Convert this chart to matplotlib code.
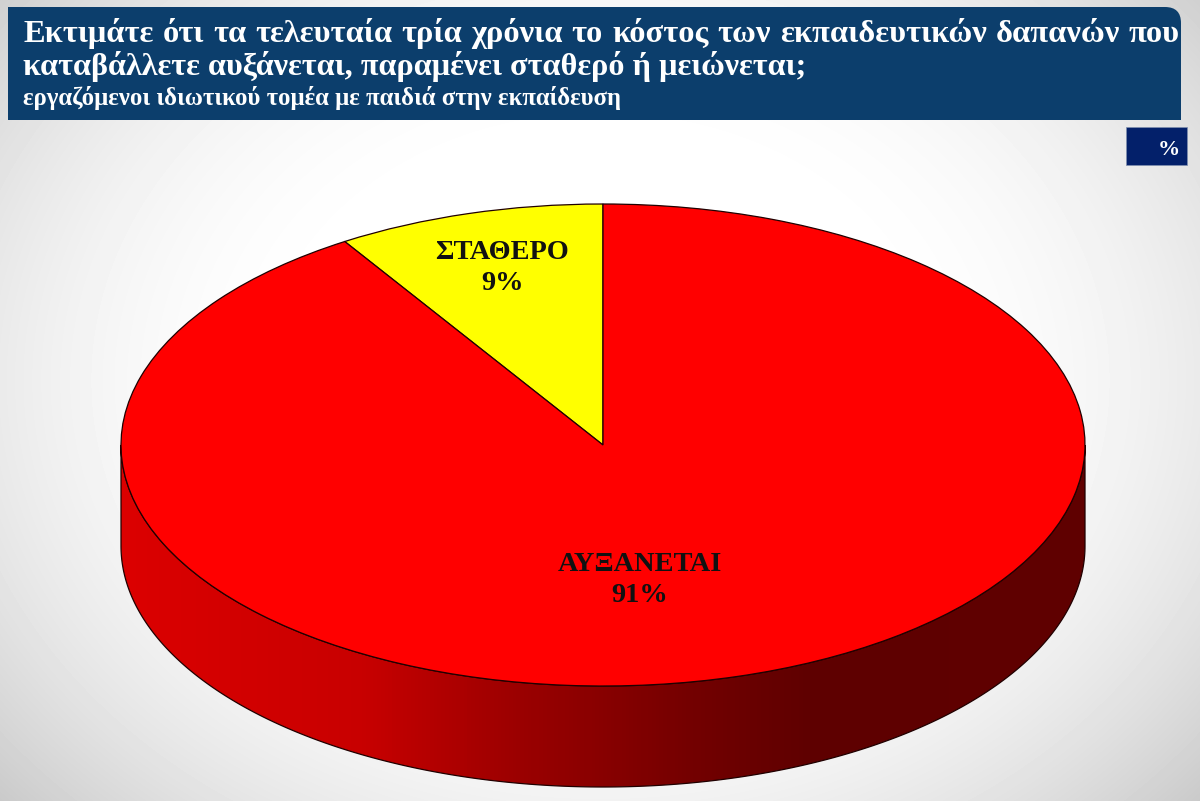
import numpy as np
import matplotlib
matplotlib.use('Agg')
import matplotlib.pyplot as plt
from matplotlib.colors import LinearSegmentedColormap
from matplotlib.patches import Polygon, Rectangle, FancyBboxPatch

plt.rcParams['font.family'] = ['Liberation Serif', 'DejaVu Serif']

categories = ['ΣΤΑΘΕΡΟ', 'ΑΥΞΑΝΕΤΑΙ']
values = [9, 91]
colors = ['#ffff00', '#ff0000']

title_lines = ['Εκτιμάτε ότι τα τελευταία τρία χρόνια το κόστος των εκπαιδευτικών δαπανών που',
               'καταβάλλετε αυξάνεται, παραμένει σταθερό ή μειώνεται;']
subtitle = 'εργαζόμενοι ιδιωτικού τομέα με παιδιά στην εκπαίδευση'

W, H = 1200, 801
# ellipse of the pie top, in pixels
cx, cy, rx, ry = 603, 445, 482, 241
depth = 101
navy = '#0c3e6c'

fig = plt.figure(figsize=(W / 100, H / 100), dpi=100)

# background, pixel coordinates with y going down
bg = fig.add_axes([0, 0, 1, 1])
bg.axis('off')

yy, xx = np.mgrid[0:H, 0:W]
dist = np.sqrt(((xx - 600) / 760) ** 2 + ((yy - 380) / 600) ** 2)
shade = 1 - 0.42 * np.clip(dist - 0.35, 0, None) ** 2
bg.imshow(shade, cmap='gray', vmin=0, vmax=1, extent=(0, W, H, 0), aspect='auto', zorder=0)

# side of the cylinder
t = np.linspace(0, np.pi, 300)
ex = cx + rx * np.cos(t)
ey = cy + ry * np.sin(t)
wall = np.column_stack([np.r_[ex, ex[::-1]], np.r_[ey, ey[::-1] + depth]])
wall_patch = Polygon(wall, closed=True, facecolor='none', edgecolor='#200000', lw=0.9, zorder=3)
bg.add_patch(wall_patch)
wall_cmap = LinearSegmentedColormap.from_list('wall', [(0, '#dc0000'), (0.25, '#c80000'), (0.4, '#9e0000'),
                                                       (0.6, '#720000'), (0.72, '#5e0000'), (1, '#600000')])
grad = bg.imshow(np.linspace(0, 1, 256)[None, :], cmap=wall_cmap, aspect='auto',
                 extent=(cx - rx, cx + rx, cy + ry + depth, cy), zorder=2)
grad.set_clip_path(wall_patch)
bg.set_xlim(0, W)
bg.set_ylim(H, 0)

# header, only the top right corner is round
header = FancyBboxPatch((8, 7), 1173, 113, boxstyle='round,pad=0,rounding_size=16',
                        facecolor=navy, edgecolor='none', zorder=4)
bg.add_patch(header)
bg.add_patch(Rectangle((8, 7), 1100, 113, facecolor=navy, edgecolor='none', zorder=4))
bg.add_patch(Rectangle((8, 40), 1173, 80, facecolor=navy, edgecolor='none', zorder=4))
bg.add_patch(Rectangle((1126, 127), 61, 38, facecolor='#03206a', edgecolor='#8090b0', lw=0.5, zorder=4))
bg.text(1169, 150, '%', color='white', fontsize=16, fontweight='bold', ha='center', va='center', zorder=5)

# justified first line, word by word
renderer = fig.canvas.get_renderer()


def justified(words, x0, x1, y, size):
    items = [bg.text(0, y, w, color='white', fontsize=size, fontweight='bold', va='baseline', zorder=5)
             for w in words]
    widths = [i.get_window_extent(renderer).width for i in items]
    gap = (x1 - x0 - sum(widths)) / (len(words) - 1)
    x = x0
    for item, width in zip(items, widths):
        item.set_x(x)
        x += width + gap


justified(title_lines[0].split(), 23, 1180, 42, 23.4)
bg.text(23, 75, title_lines[1], color='white', fontsize=23.2, fontweight='bold', va='baseline', zorder=5)
bg.text(23, 105, subtitle, color='white', fontsize=17.8, fontweight='bold', va='baseline', zorder=5)

# pie top, stretched to the ellipse
pie_ax = fig.add_axes([(cx - rx) / W, 1 - (cy + ry) / H, 2 * rx / W, 2 * ry / H])
pie_ax.pie(values, colors=colors, startangle=90, counterclock=True,
           wedgeprops={'edgecolor': '#200000', 'linewidth': 0.9})
pie_ax.set_aspect('auto')
pie_ax.set_xlim(-1, 1)
pie_ax.set_ylim(-1, 1)

labels = [f'{c}\n{v}%' for c, v in zip(categories, values)]
label_pos = [(502, 268), (640, 580)]
for lab, (lx, ly) in zip(labels, label_pos):
    fig.text(lx / W, 1 - ly / H, lab, ha='center', va='center', fontsize=20.4, fontweight='bold',
             color='#111111', linespacing=1.3)

fig.savefig('out.png', dpi=100)
